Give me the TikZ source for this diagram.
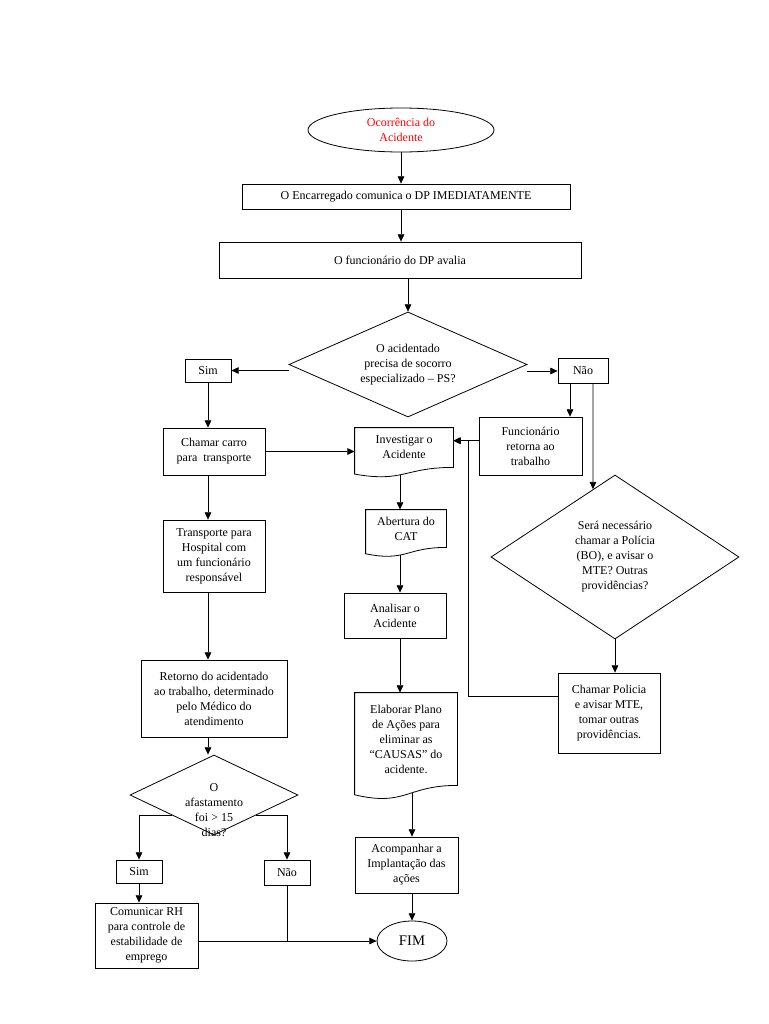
\documentclass[tikz,border=0pt]{standalone}
\usepackage{fontspec}
\setmainfont{Liberation Serif}
\usetikzlibrary{arrows.meta,shapes.geometric,calc}
\newcommand\docpath[2]{\draw (#1.north west) -- (#1.north east) -- (#1.south east) .. controls (#1.south) and ($(#1.south)+(0,1.535*#2)$) .. ($(#1.south west)+(0,0.67*#2)$) -- cycle;}
\tikzset{
  every node/.style={font=\fontsize{9}{11.25}\selectfont, align=center, inner sep=0pt},
  box/.style={draw, rectangle},
  sz/.style 2 args={minimum width=#1*0.75pt, minimum height=#2*0.75pt},
  doc/.style={rectangle},
  dia/.style={draw, diamond},
  ell/.style={draw, ellipse},
  arr/.style={-{Triangle[length=5.5pt,width=5pt]}},
}
\begin{document}
\begin{tikzpicture}[x={(0.75pt,0)}, y={(0,-0.75pt)}, line width=0.6pt]
\useasboundingbox (0,0) rectangle (768,1024);

\node[ell, sz={186}{44}, text=red] (start) at (401,130) {Ocorrência do\\Acidente};
\node[box, sz={328}{25}] (enc) at (406,196.5) {O Encarregado comunica o DP IMEDIATAMENTE};
\node[box, sz={362}{36}] (aval) at (400,260) {O funcionário do DP avalia};
\node[dia, sz={238}{105}, label={center:{O acidentado\\precisa de socorro\\especializado – PS?}}] (d1) at (408,364.5) {};
\node[box, sz={46}{23}] (sim1) at (208,370.5) {Sim};
\node[box, sz={50}{25}] (nao1) at (583,371) {Não};
\node[box, sz={102}{47}] (car) at (214,451.5) {Chamar carro\\para\ \ transporte};
\node[doc, sz={98}{39}] (inv) at (404,447.5) {Investigar o\\Acidente};
\node[box, sz={103}{58}] (func) at (530.5,446) {Funcionário\\retorna ao\\trabalho};
\node[dia, sz={248}{164}, label={center:{Será necessário\\chamar a Polícia\\(BO), e avisar o\\MTE? Outras\\providências?}}] (d2) at (615,557) {};
\node[box, sz={102}{72}] (tra) at (214,556) {Transporte para\\Hospital com\\um funcionário\\responsável};
\node[doc, sz={80}{37}] (abe) at (406,528.5) {Abertura do\\CAT};
\node[box, sz={102}{45}] (ana) at (395,615.5) {Analisar o\\Acidente};
\node[box, sz={146}{77}] (ret) at (214,698.5) {Retorno do acidentado\\ao trabalho, determinado\\pelo Médico do\\atendimento};
\node[doc, sz={102}{92}] (ela) at (406,739) {Elaborar Plano\\de Ações para\\eliminar as\\“CAUSAS” do\\acidente.};
\node[box, sz={102}{80}] (pol) at (609,713) {Chamar Policia\\e avisar MTE,\\tomar outras\\providências.};
\node[dia, sz={168}{80}, label={[yshift=-11pt]center:{O\\afastamento\\foi > 15\\dias?}}] (d3) at (214,795) {};
\node[box, sz={46}{23}] (sim2) at (139,871.5) {Sim};
\node[box, sz={46}{25}] (nao2) at (287,872.5) {Não};
\node[box, sz={103}{65}] (com) at (146.5,935.5) {Comunicar RH\\para controle de\\estabilidade de\\emprego};
\node[box, sz={103}{56}] (aco) at (406.5,865) {Acompanhar a\\Implantação das\\ações};
\node[ell, sz={70}{40}, font=\fontsize{11}{13}\selectfont] (fim) at (412,941) {FIM};

\docpath{inv}{10}
\docpath{abe}{9.5}
\docpath{ela}{14}

\coordinate (cA) at (208,0);
\coordinate (cM) at (400,0);
\coordinate (cR) at (412,0);
\coordinate (jx) at (468,441);
\coordinate (nA) at (570,0);
\coordinate (nB) at (593,0);
\coordinate (invin) at ($(inv.north east)!0.33!(inv.south east)$);
\coordinate (polin) at ($(pol.north west)!0.3!(pol.south west)$);
\coordinate (dl) at ($(d3.west)!0.5!(d3.south)$);
\coordinate (dr) at ($(d3.east)!0.5!(d3.south)$);

\draw[arr] (start.south) -- (start.south |- enc.north);
\draw[arr] (enc.south -| start.south) -- (aval.north -| start.south);
\draw[arr] (aval.south -| d1.north) -- (d1.north);
\draw[arr] (d1.west |- sim1.east) -- (sim1.east);
\draw[arr] (d1.east |- nao1.west) -- (nao1.west);
\draw[arr] (sim1.south -| cA) -- (car.north -| cA);
\draw[arr] (car.south -| cA) -- (tra.north -| cA);
\draw[arr] (tra.south -| cA) -- (ret.north -| cA);
\draw[arr] (ret.south -| cA) -- (d3.north -| cA);
\draw[arr] (car.east) -- (car.east -| inv.west);
\draw[arr] (nao1.south -| nA) -- (func.north -| nA);
\draw[arr] (nao1.south -| nB) -- ($(d2.west)!0.823!(d2.north)$);
\draw[arr] (func.west |- invin) -- (invin);
\draw[arr] (polin) -- (polin -| jx) -- (jx |- invin) -- (invin);
\draw[arr] (d2.south) -- (pol.north -| d2.south);
\draw[arr] ($(inv.south -| cM)+(0,7.4)$) -- (abe.north -| cM);
\draw[arr] ($(abe.south -| cM)+(0,7.7)$) -- (ana.north -| cM);
\draw[arr] (ana.south -| cM) -- (ela.north -| cM);
\draw[arr] ($(ela.south -| cR)+(0,8)$) -- (aco.north -| cR);
\draw[arr] (aco.south -| cR) -- (fim.north);
\draw[arr] (dl) -| (sim2.north);
\draw[arr] (dr) -| (nao2.north);
\draw[arr] (sim2.south) -- (sim2.south |- com.north);
\draw[arr] (com.east |- fim.west) -- (fim.west);
\draw (nao2.south) -- (nao2.south |- fim.west);
\end{tikzpicture}
\end{document}
